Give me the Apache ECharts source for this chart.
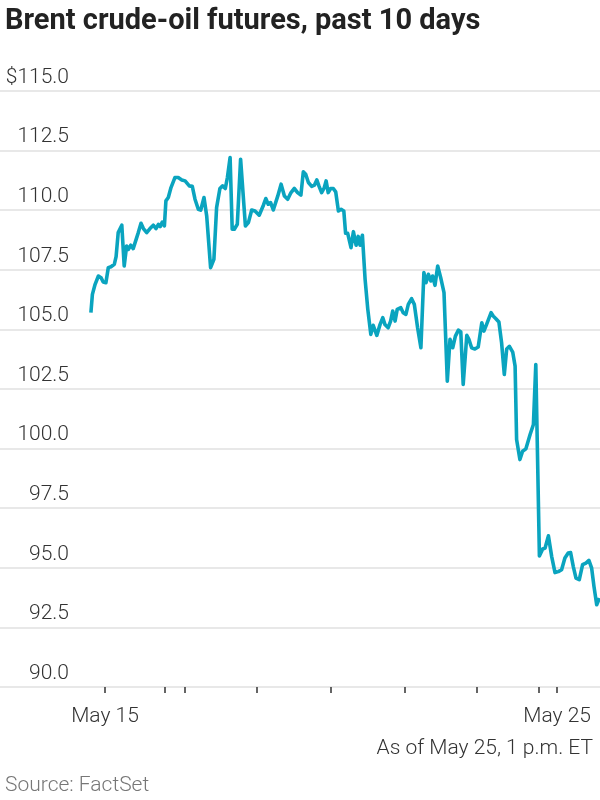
<!DOCTYPE html>
<html>
<head>
<meta charset="utf-8">
<script src="https://cdn.jsdelivr.net/npm/echarts@6/dist/echarts.min.js"></script>
<style>
  html, body { margin: 0; padding: 0; background: #fff; }
  #chart { width: 600px; height: 800px; }
</style>
</head>
<body>
<div id="chart"></div>
<script>
// time along the axis, in trading hours from the May 15 tick
const hours = [
  -4.7, -4.2, -3.3, -2.2, -1.3, -0.6, 0.3, 1.1, 2.0, 3.1, 3.7, 4.4, 5.6, 6.4, 7.2, 7.8, 8.6, 9.4,
  11.1, 12.0, 12.8, 13.9, 15.0, 16.1, 17.0, 17.8, 18.4, 19.1, 19.8, 20.3, 21.1, 22.0, 23.3, 24.4,
  25.6, 26.7, 28.1, 29.1, 30.0, 31.1, 31.9, 33.0, 33.9, 35.2, 36.3, 37.2, 38.3, 39.2, 40.1, 40.8,
  41.7, 42.4, 43.1, 44.1, 45.2, 46.8, 47.8, 48.9, 50.0, 51.4, 52.8, 53.6, 54.4, 55.2, 56.1, 57.6,
  58.7, 59.8, 60.9, 62.0, 63.1, 64.2, 65.3, 66.1, 66.9, 67.8, 68.9, 69.8, 70.6, 71.3, 72.2, 73.1,
  73.7, 74.4, 75.2, 76.1, 76.9, 77.8, 78.7, 79.6, 80.2, 80.9, 82.0, 82.8, 83.7, 84.4, 85.0, 85.8,
  86.7, 87.6, 88.6, 89.4, 90.6, 91.7, 92.6, 93.3, 94.4, 95.2, 95.9, 96.7, 97.4, 98.6, 99.4, 100.3,
  101.1, 102.2, 103.1, 104.2, 105.3, 106.3, 107.0, 107.8, 108.6, 109.2, 110.0, 110.9, 111.9, 113.0,
  114.1, 115.0, 115.9, 116.8, 117.8, 118.6, 119.4, 120.6, 121.3, 122.2, 123.3, 124.4, 125.6, 126.3,
  127.2, 128.7, 129.4, 130.3, 131.3, 132.2, 133.1, 133.9, 134.8, 135.9, 136.7, 137.2, 138.3, 139.2,
  140.3, 141.7, 142.8, 143.6, 144.8, 145.9, 146.7, 147.8, 148.9, 150.0, 151.1, 152.2, 153.3, 154.4,
  155.2, 156.1, 157.0, 158.1, 159.2, 160.3, 161.3, 162.2, 163.0, 163.9, 164.8
];
const prices = [
  105.70, 106.47, 106.89, 107.24, 107.17, 106.99, 106.96, 107.59, 107.63, 107.73, 108.05, 109.06, 109.37, 107.66, 108.50, 108.36, 108.53, 108.39,
  109.06, 109.45, 109.23, 109.06, 109.23, 109.37, 109.23, 109.41, 109.31, 109.50, 109.34, 110.39, 110.53, 110.95, 111.37, 111.37,
  111.27, 111.23, 111.02, 111.00, 110.46, 110.04, 110.00, 110.53, 109.76, 107.59, 107.94, 110.11, 110.91, 111.02, 110.91, 111.37,
  112.21, 109.20, 109.20, 109.41, 112.14, 109.34, 109.48, 110.01, 109.97, 109.79, 110.21, 110.49, 110.25, 110.32, 110.01, 110.60,
  111.09, 110.60, 110.46, 110.74, 110.91, 110.74, 110.63, 111.61, 111.51, 111.16, 111.00, 111.05, 111.27, 111.02, 110.74, 110.95,
  111.23, 110.74, 110.91, 110.91, 110.77, 109.97, 110.04, 109.97, 109.03, 109.03, 108.43, 109.10, 108.53, 108.90, 108.53, 108.95,
  107.10, 105.84, 104.79, 105.17, 104.75, 105.21, 105.49, 105.21, 105.07, 105.35, 105.77, 105.35, 105.84, 105.91, 105.70, 105.63,
  106.05, 106.29, 106.05, 105.07, 104.23, 107.38, 106.96, 107.31, 107.03, 107.24, 106.85, 107.66, 107.17, 106.54,
  102.83, 104.58, 104.23, 104.72, 104.97, 104.89, 102.69, 104.75, 104.58, 104.23, 104.18, 104.26, 105.28, 104.93,
  105.21, 105.70, 105.56, 105.45, 105.31, 104.44, 103.11, 104.18, 104.29, 104.05, 103.46, 100.38, 99.54, 99.89,
  99.99, 100.59, 101.01, 103.53, 95.50, 95.79, 95.83, 96.34, 95.47, 94.80, 94.84, 94.92, 95.41, 95.62,
  95.64, 95.05, 94.57, 94.50, 95.13, 95.20, 95.31, 95.00, 94.21, 93.45, 93.73
];

// day boundaries on the x axis
const tickHours = [0, 20, 26.7, 50.7, 75.3, 100, 124, 144.7, 150.7];
const labelHours = [0, 150.7];
const labelTexts = ['May 15', 'May 25'];

const FONT = 'Roboto';
const chart = echarts.init(document.getElementById('chart'));

chart.setOption({
  animation: false,
  backgroundColor: '#fff',
  title: [
    {
      text: 'Brent crude-oil futures, past 10 days',
      left: 0, top: 2,
      textStyle: { fontFamily: FONT, fontWeight: 'bold', fontSize: 29, color: '#222' }
    },
    {
      text: 'As of May 25, 1 p.m. ET',
      right: 2, top: 733,
      textStyle: { fontFamily: FONT, fontWeight: 300, fontSize: 21, color: '#333' }
    },
    {
      text: 'Source: FactSet',
      left: 0, top: 770,
      textStyle: { fontFamily: FONT, fontWeight: 300, fontSize: 21, color: '#777' }
    }
  ],
  grid: { left: 0, right: 0, top: 91, bottom: 113 },
  xAxis: {
    type: 'value',
    min: -35,
    max: 165,
    axisLine: { show: false },
    splitLine: { show: false },
    axisTick: {
      show: true,
      customValues: tickHours,
      length: 6,
      lineStyle: { color: '#333', width: 1.5 }
    },
    axisLabel: {
      customValues: labelHours,
      margin: 19,
      fontFamily: FONT,
      fontWeight: 300,
      fontSize: 21,
      color: '#333',
      formatter: v => labelTexts[labelHours.indexOf(v)] || ''
    }
  },
  yAxis: {
    type: 'value',
    min: 90,
    max: 115,
    interval: 2.5,
    axisLine: { show: false },
    axisTick: { show: false },
    splitLine: { lineStyle: { color: '#e0e0e0', width: 1.5 } },
    axisLabel: {
      inside: true,
      margin: 69,
      align: 'right',
      verticalAlign: 'bottom',
      padding: [0, 0, 3, 0],
      fontFamily: FONT,
      fontWeight: 300,
      fontSize: 21,
      color: '#333',
      formatter: v => (v === 115 ? '$' : '') + v.toFixed(1)
    }
  },
  series: [{
    type: 'line',
    data: hours.map((h, i) => [h, prices[i]]),
    symbol: 'none',
    lineStyle: { color: '#0aa4bf', width: 3.6, join: 'round' }
  }]
});
</script>
</body>
</html>
